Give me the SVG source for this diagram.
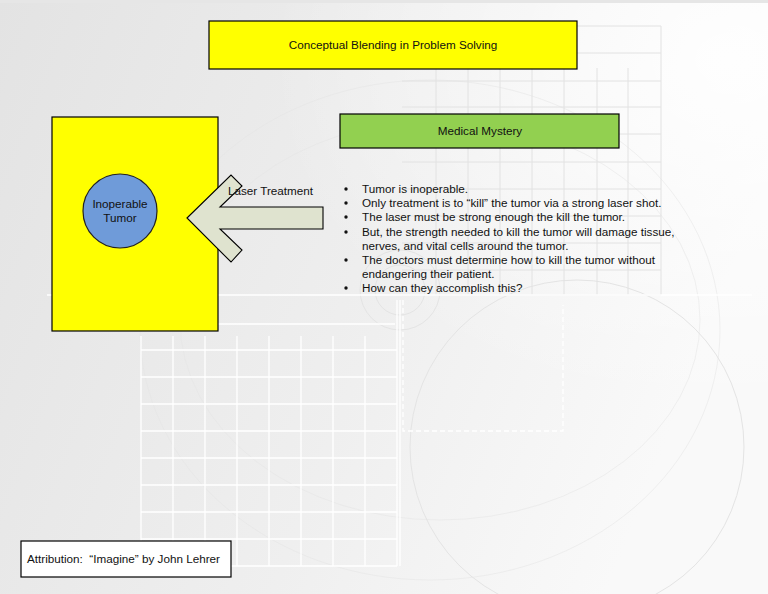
<svg xmlns="http://www.w3.org/2000/svg" width="768" height="594" viewBox="0 0 768 594">
<defs>
<linearGradient id="bg" x1="0" y1="0" x2="1" y2="0.3">
<stop offset="0" stop-color="#e3e3e3"/>
<stop offset="0.6" stop-color="#efefef"/>
<stop offset="1" stop-color="#f9f9f9"/>
</linearGradient>
<radialGradient id="glow" cx="0.95" cy="0.1" r="0.6">
<stop offset="0" stop-color="#ffffff" stop-opacity="0.9"/>
<stop offset="1" stop-color="#ffffff" stop-opacity="0"/>
</radialGradient>
<style>
.t{font-family:"Liberation Sans",Arial,sans-serif;font-size:11.7px;fill:#111}
.box{stroke:#000;stroke-width:1.2}
.wg{stroke:#ffffff;stroke-width:1.3;fill:none}
.gg{stroke:#e2e2e2;stroke-width:1;fill:none}
.arc{stroke:#e4e4e4;stroke-width:1;fill:none}
</style>
</defs>
<g id="background">
<rect x="0" y="0" width="768" height="594" fill="url(#bg)"/>
<rect x="0" y="0" width="768" height="594" fill="url(#glow)"/>
<rect x="0" y="0" width="768" height="3" fill="#e6e6e6"/>
<circle cx="577" cy="447" r="167" class="arc"/>
<circle cx="400" cy="290" r="40" class="arc"/>
<circle cx="400" cy="290" r="25" class="arc"/>
<ellipse cx="430" cy="330" rx="290" ry="250" class="arc" opacity="0.5"/>
<ellipse cx="440" cy="320" rx="260" ry="200" class="arc" opacity="0.5"/>
<path class="gg" d="M402 26H661M402 53H661M402 81H661M402 107H661M402 134H661M402 162H661M402 189H661M402 216H661M402 243H661M402 270H661M402 295H661M436 68V295M468 68V295M500 68V295M532 68V295M564 68V295M597 68V295M628 68V295M661 26V295"/>
<path class="wg" d="M47 295H752"/>
<path class="wg" d="M141 324H395M141 350H397M141 377H397M141 404H397M141 431H397M141 458H397M141 485H397M141 512H397M141 539H397M141 566H397M141 336V566M173 336V566M205 336V566M237 336V566M269 336V566M301 336V566M333 336V566M365 336V566M397 300V566M400 300V566"/>
<path class="wg" d="M403 300V431H563V305" stroke-dasharray="5 3"/>
</g>
<g id="title">
<rect class="box" x="209" y="21" width="368" height="48" fill="#ffff00"/>
<text class="t" x="393" y="49" text-anchor="middle">Conceptual Blending in Problem Solving</text>
</g>
<g id="tumor-box">
<rect class="box" x="52" y="117" width="166" height="214" fill="#ffff00"/>
</g>
<g id="tumor">
<circle cx="120" cy="211" r="37" fill="#6f9bd9" stroke="#222" stroke-width="1.2"/>
<text class="t" x="120" y="208" text-anchor="middle">Inoperable</text>
<text class="t" x="120" y="222" text-anchor="middle">Tumor</text>
</g>
<g id="connectors">
<polygon points="187,218 231,175 242,186 220,207 323,207 323,229 220,229 242,250 231,262" fill="#dfe3cf" stroke="#000" stroke-width="1.1"/>
<text class="t" x="228" y="195">Laser Treatment</text>
</g>
<g id="medical-mystery">
<rect class="box" x="340" y="114" width="279" height="34" fill="#92d050"/>
<text class="t" x="480" y="135" text-anchor="middle">Medical Mystery</text>
</g>
<g id="bullets">
<g fill="#111">
<circle cx="346" cy="189" r="1.7"/>
<circle cx="346" cy="203" r="1.7"/>
<circle cx="346" cy="217" r="1.7"/>
<circle cx="346" cy="232" r="1.7"/>
<circle cx="346" cy="260" r="1.7"/>
<circle cx="346" cy="288" r="1.7"/>
</g>
<g class="t">
<text x="362" y="193">Tumor is inoperable.</text>
<text x="362" y="207">Only treatment is to “kill” the tumor via a strong laser shot.</text>
<text x="362" y="221">The laser must be strong enough the kill the tumor.</text>
<text x="362" y="236">But, the strength needed to kill the tumor will damage tissue,</text>
<text x="362" y="250">nerves, and vital cells around the tumor.</text>
<text x="362" y="264">The doctors must determine how to kill the tumor without</text>
<text x="362" y="278">endangering their patient.</text>
<text x="362" y="292">How can they accomplish this?</text>
</g>
</g>
<g id="attribution">
<rect class="box" x="21" y="541" width="210" height="36" fill="#ffffff"/>
<text class="t" x="27" y="563" xml:space="preserve">Attribution:  “Imagine” by John Lehrer</text>
</g>
</svg>
